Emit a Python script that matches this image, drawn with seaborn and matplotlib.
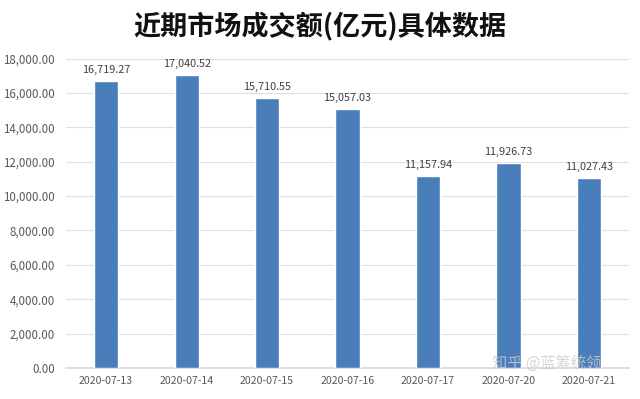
import matplotlib.pyplot as plt
import seaborn as sns
import pandas as pd
from matplotlib.ticker import FuncFormatter

dates = ["2020-07-13", "2020-07-14", "2020-07-15", "2020-07-16",
         "2020-07-17", "2020-07-20", "2020-07-21"]
turnover = [16719.27, 17040.52, 15710.55, 15057.03, 11157.94, 11926.73, 11027.43]
title = "近期市场成交额(亿元)具体数据"

sns.set_theme(style="white")
plt.rcParams['font.family'] = ['Noto Sans CJK SC', 'DejaVu Sans']

df = pd.DataFrame({"date": dates, "value": turnover})

fig = plt.figure(figsize=(6.4, 3.99), dpi=100)
ax = fig.add_axes([0.103, 0.078, 0.880, 0.775])

sns.barplot(data=df, x="date", y="value", color="#4a7ebb", width=0.3,
            saturation=1, ax=ax, zorder=3)

for i, v in enumerate(turnover):
    ax.text(i, v + 350, f"{v:,.2f}", ha="center", va="bottom",
            fontsize=7.8, color="#404040")

ax.set_ylim(0, 18000)
ax.set_yticks(range(0, 18001, 2000))
ax.yaxis.set_major_formatter(FuncFormatter(lambda y, _: f"{y:,.2f}"))
ax.grid(axis="y", color="#e0e0e0", linewidth=0.8, zorder=0)
ax.set_xlabel("")
ax.set_ylabel("")
ax.tick_params(axis="y", labelsize=8.3, colors="#595959", length=0, pad=8)
ax.tick_params(axis="x", labelsize=7.6, colors="#595959", length=0, pad=6)
for s in ["top", "right", "left"]:
    ax.spines[s].set_visible(False)
ax.spines["bottom"].set_color("#d9d9d9")
ax.set_xlim(-0.5, len(dates) - 0.5)

fig.text(0.5, 0.935, title, ha="center", va="center", fontsize=19.5,
         fontweight="bold", color="#111111")

fig.text(0.94, 0.09, "知乎 @蓝筹统领", ha="right", va="center", fontsize=11,
         color="#cccccc", alpha=0.8, zorder=10)

fig.savefig("out.png", dpi=100)
